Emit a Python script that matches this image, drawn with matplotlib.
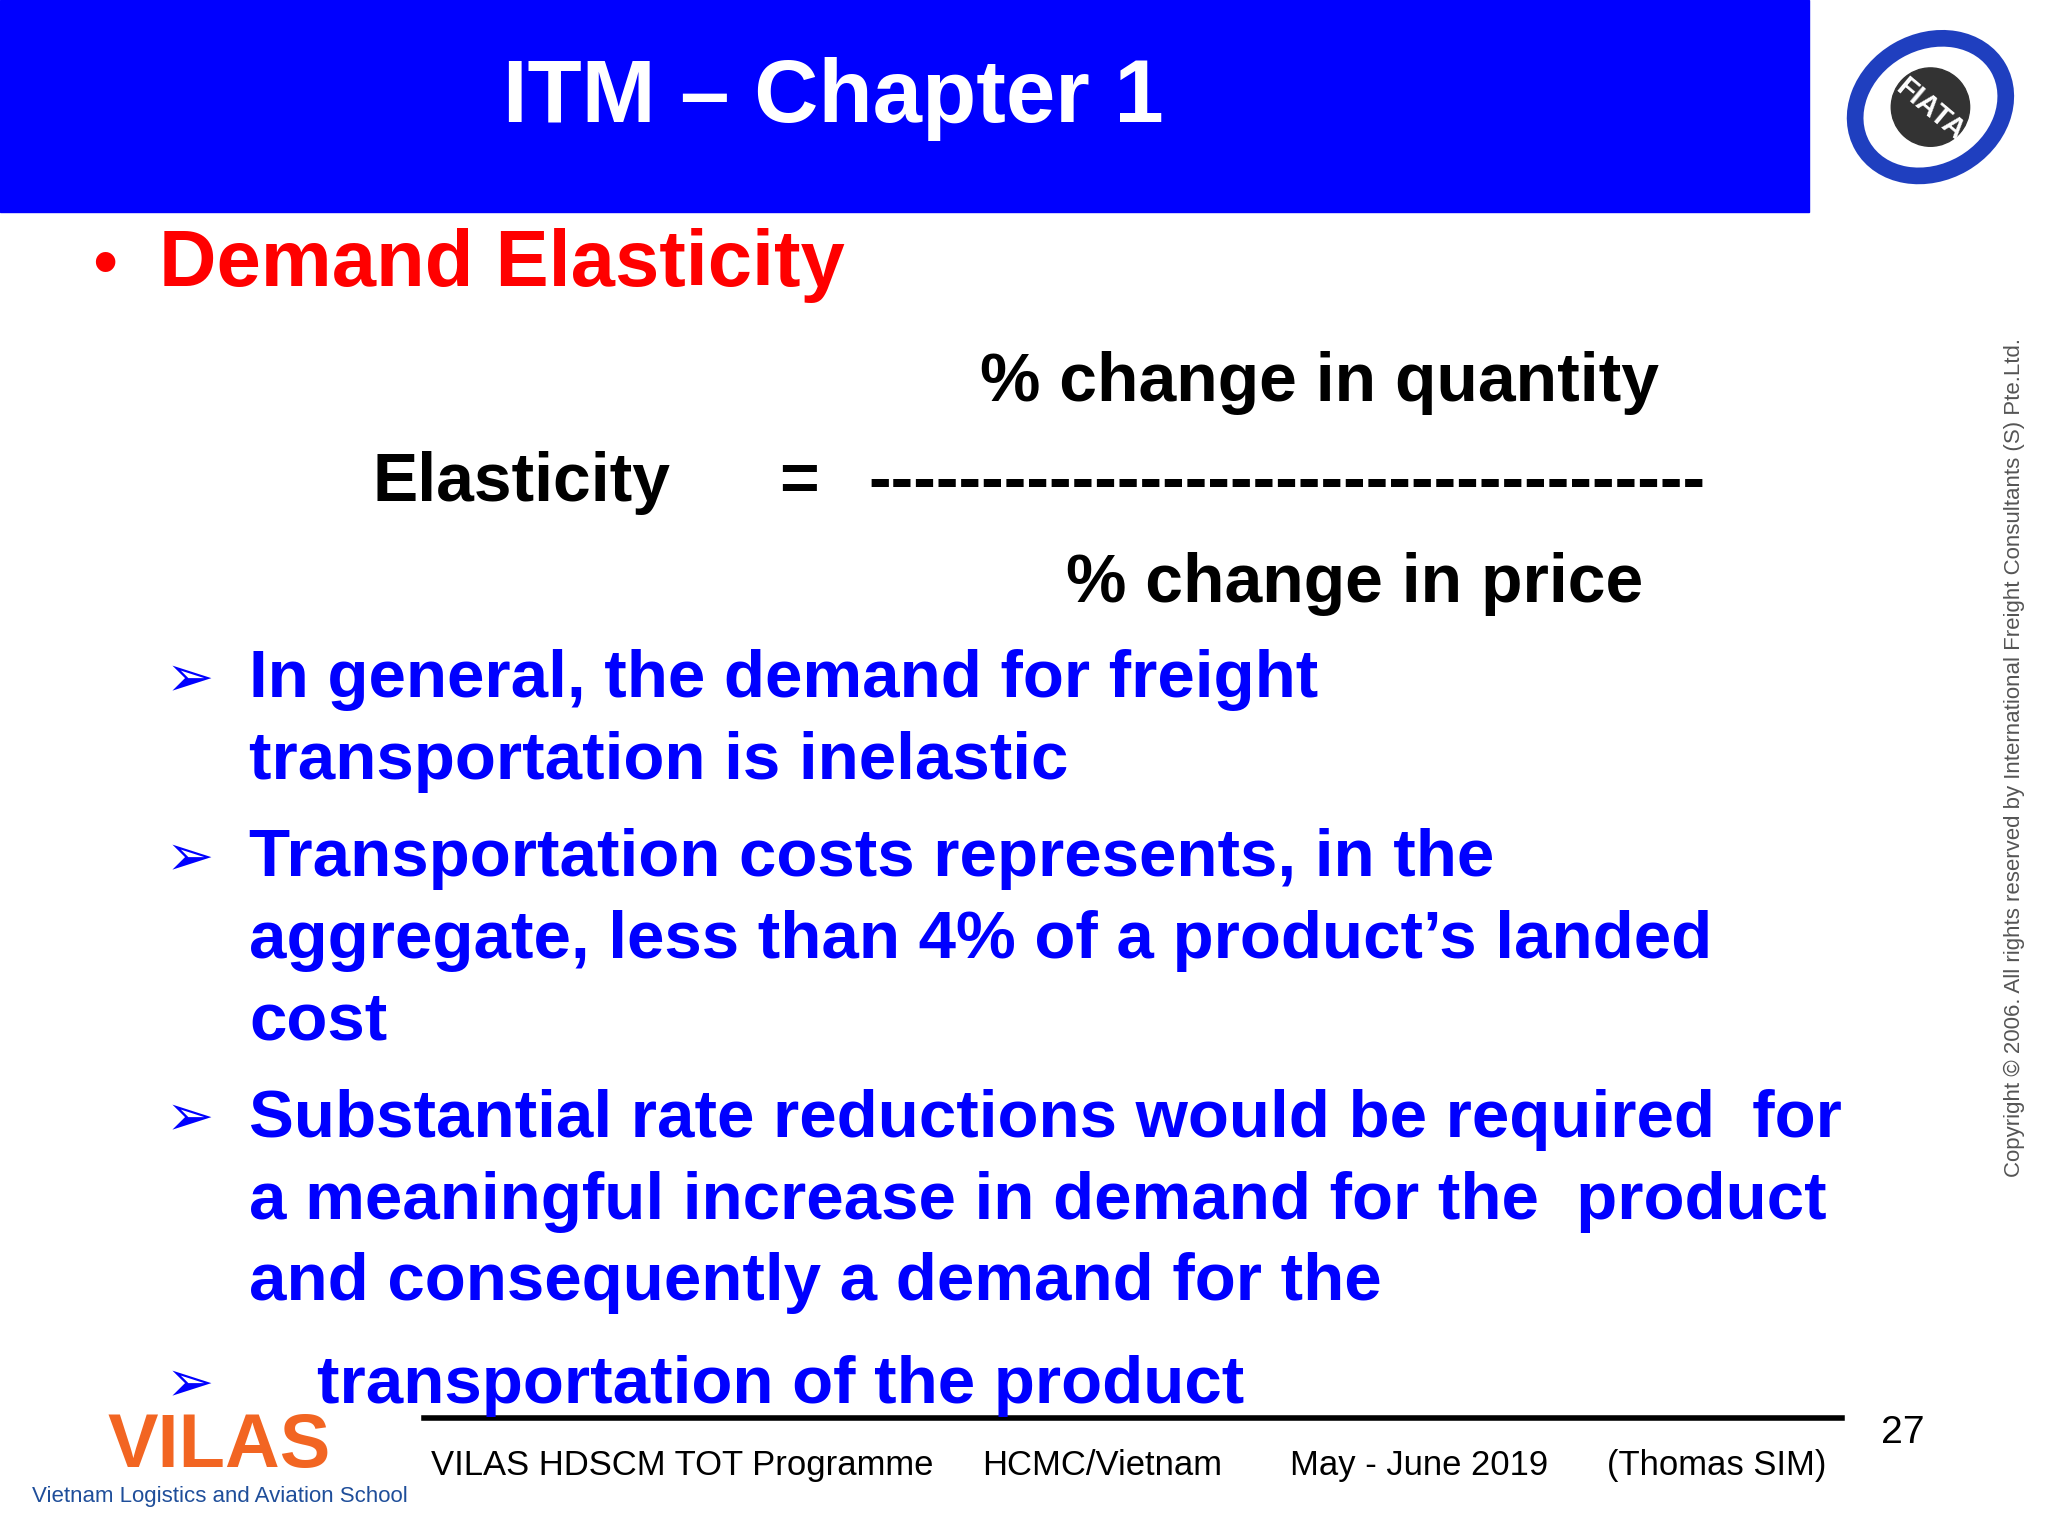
import matplotlib.pyplot as plt
from matplotlib.patches import Rectangle, Ellipse

# slide text
title = "ITM – Chapter 1"
heading = "Demand Elasticity"
formula_top = "% change in quantity"
formula_left = "Elasticity"
formula_eq = "="
formula_line = "-" * 37
formula_bottom = "% change in price"
bullets = [
    ["In general, the demand for freight", "transportation is inelastic"],
    ["Transportation costs represents, in the",
     "aggregate, less than 4% of a product\u2019s landed", "cost"],
    ["Substantial rate reductions would be required  for",
     "a meaningful increase in demand for the  product",
     "and consequently a demand for the"],
]
last_bullet = "transportation of the product"
footer_parts = ["VILAS HDSCM TOT Programme", "HCMC/Vietnam", "May - June 2019", "(Thomas SIM)"]
page_no = "27"
copyright_text = "Copyright \u00a9 2006. All rights reserved by International Freight Consultants (S) Pte.Ltd."

W, H = 1568, 1176
S = 2048 / W
def pt(em):  # display-pixel em -> points
    return em * S * 72 / 100

plt.rcParams['font.family'] = ['Liberation Sans', 'DejaVu Sans']
fig = plt.figure(figsize=(20.48, 15.36), dpi=100)
ax = fig.add_axes([0, 0, 1, 1])
ax.set_xlim(0, W)
ax.set_ylim(H, 0)
ax.axis('off')

blue = '#0000FF'
ax.add_patch(Rectangle((0, 0), 1385, 162, color='#0000FF'))
ax.text(638, 76, title, color='white', fontsize=pt(68), fontweight='bold', ha='center', va='center')

# FIATA-like logo
ax.add_patch(Ellipse((1478, 82), 120, 100, fill=False, ec='#1f3fbf', lw=12, angle=-30))
ax.add_patch(Ellipse((1478, 82), 60, 60, color='#333333'))
ax.text(1478, 84, "FIATA", color='white', fontsize=pt(22), fontweight='bold', rotation=-40,
        ha='center', va='center')

ax.text(80, 205, "\u2022", color='red', fontsize=pt(55), ha='center', va='center')
ax.text(122, 203, heading, color='#FF0000', fontsize=pt(61), fontweight='bold', va='center')

ax.text(1270, 293, formula_top, fontsize=pt(52), fontweight='bold', ha='right', va='center')
ax.text(285, 370, formula_left, fontsize=pt(52), fontweight='bold', va='center')
ax.text(612, 370, formula_eq, fontsize=pt(52), fontweight='bold', ha='center', va='center')
ax.text(665, 370, formula_line, fontsize=pt(52), fontweight='bold', va='center')
ax.text(1258, 447, formula_bottom, fontsize=pt(52), fontweight='bold', ha='right', va='center')

y = 521
lh = 62.5
for lines in bullets:
    ax.text(145, y, "\u27a2", color=blue, fontsize=pt(44), ha='center', va='center',
            family=['DejaVu Sans'])
    for ln in lines:
        ax.text(191, y, ln, color=blue, fontsize=pt(51.5), fontweight='bold', va='center')
        y += lh
    y += 12
y = 1061
ax.text(145, y, "\u27a2", color=blue, fontsize=pt(44), ha='center', va='center', family=['DejaVu Sans'])
ax.text(243, y, last_bullet, color=blue, fontsize=pt(51.5), fontweight='bold', va='center')

ax.plot([325, 1410], [1086, 1086], color='black', lw=4)
for x, t in zip([330, 752, 988, 1230], footer_parts):
    ax.text(x, 1122, t, fontsize=pt(26.5), va='center')
ax.text(1457, 1097, page_no, fontsize=pt(30), ha='center', va='center')

ax.text(168, 1108, "VILAS", color='#F26522', fontsize=pt(58), fontweight='bold', ha='center', va='center')
ax.text(168, 1146, "Vietnam Logistics and Aviation School", color='#1f4e9a', fontsize=pt(17),
        ha='center', va='center')

ax.text(1542, 580, copyright_text, color='#555555', fontsize=pt(17), rotation=90,
        ha='center', va='center')

fig.savefig('out.png', dpi=100)
